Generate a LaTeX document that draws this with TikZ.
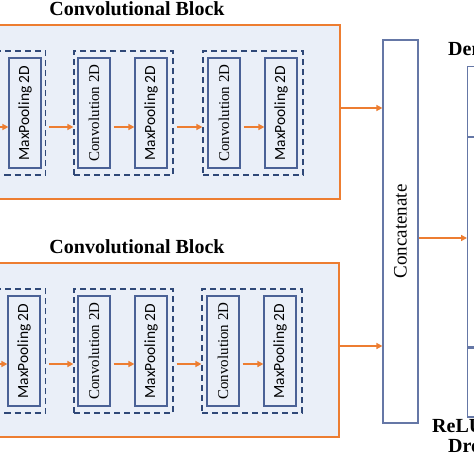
\documentclass[tikz,border=0pt]{standalone}
\usepackage{fontspec}
\setmainfont{Liberation Serif}
\newfontfamily\calib{Carlito}
\usetikzlibrary{arrows.meta}
\definecolor{orng}{HTML}{ED7D31}
\definecolor{bfill}{HTML}{EAEFF8}
\definecolor{dblue}{HTML}{2F4878}
\definecolor{eblue}{HTML}{4A6196}
\definecolor{cblue}{HTML}{6577A6}
\newcommand\myconv{\rotatebox{90}{\fontsize{15}{17}\selectfont Convolution 2D}}
\newcommand\mypool{\rotatebox{90}{\calib\fontsize{15.5}{17}\selectfont MaxPooling 2D}}
\tikzset{
  blockbox/.style={draw=orng, line width=1.3pt, fill=bfill, inner sep=0pt},
  dashbox/.style={draw=dblue, line width=1.2pt, dash pattern=on 6pt off 4pt, inner sep=0pt},
  layerbox/.style={draw=eblue, line width=1.2pt, fill=bfill, inner sep=0pt, minimum width=32pt, minimum height=110pt},
  concatbox/.style={draw=cblue, line width=1.2pt, fill=white, inner sep=0pt},
  arr/.style={draw=orng, line width=1.6pt, -{Triangle[length=6pt,width=6pt]}},
  title/.style={font=\fontsize{20}{22}\selectfont\bfseries, inner sep=0pt},
}
\begin{document}
\begin{tikzpicture}[x=1pt,y=-1pt]
\useasboundingbox (0,0) rectangle (474,474);
\clip (0,0) rectangle (474,474);
% ---------- Block 1 ----------
\node[title, anchor=base] (t1) at (137,15) {Convolutional Block};
\node[blockbox, minimum width=440pt, minimum height=174pt] (b1) at (120,112) {};
\node[dashbox, minimum width=101pt, minimum height=124pt] (d1a) at (-5,113) {};
\node[dashbox, minimum width=99pt, minimum height=124pt] (d1b) at (123.5,113) {};
\node[dashbox, minimum width=100pt, minimum height=124pt] (d1c) at (253,113) {};
\node[layerbox] (c1a) at (-35,113) {};
\node[layerbox] (m1a) at (25,113) {\mypool};
\node[layerbox] (c1b) at (94,113) {\myconv};
\node[layerbox] (m1b) at (151,113) {\mypool};
\node[layerbox] (c1c) at (224,113) {\myconv};
\node[layerbox] (m1c) at (281,113) {\mypool};
\draw[arr, shorten <=3pt] ([yshift=-14pt]c1a.east) -- ([yshift=-14pt]m1a.west);
\draw[arr, shorten <=3pt] ([yshift=-14pt]d1a.east) -- ([yshift=-14pt]d1b.west);
\draw[arr, shorten <=3pt] ([yshift=-14pt]c1b.east) -- ([yshift=-14pt]m1b.west);
\draw[arr, shorten <=3pt] ([yshift=-14pt]d1b.east) -- ([yshift=-14pt]d1c.west);
\draw[arr, shorten <=3pt] ([yshift=-14pt]c1c.east) -- ([yshift=-14pt]m1c.west);
% ---------- Block 2 ----------
\node[title, anchor=base] (t2) at (137,253) {Convolutional Block};
\node[blockbox, minimum width=439pt, minimum height=174pt] (b2) at (119.5,350) {};
\node[dashbox, minimum width=101pt, minimum height=124pt] (d2a) at (-5,351) {};
\node[dashbox, minimum width=99pt, minimum height=124pt] (d2b) at (123.5,351) {};
\node[dashbox, minimum width=100pt, minimum height=124pt] (d2c) at (252,351) {};
\node[layerbox] (c2a) at (-35,351) {};
\node[layerbox] (m2a) at (24,351) {\mypool};
\node[layerbox] (c2b) at (94,351) {\myconv};
\node[layerbox] (m2b) at (151,351) {\mypool};
\node[layerbox] (c2c) at (223,351) {\myconv};
\node[layerbox] (m2c) at (280,351) {\mypool};
\draw[arr, shorten <=3pt] ([yshift=-13pt]c2a.east) -- ([yshift=-13pt]m2a.west);
\draw[arr, shorten <=3pt] ([yshift=-13pt]d2a.east) -- ([yshift=-13pt]d2b.west);
\draw[arr, shorten <=3pt] ([yshift=-13pt]c2b.east) -- ([yshift=-13pt]m2b.west);
\draw[arr, shorten <=3pt] ([yshift=-13pt]d2b.east) -- ([yshift=-13pt]d2c.west);
\draw[arr, shorten <=3pt] ([yshift=-13pt]c2c.east) -- ([yshift=-13pt]m2c.west);
% ---------- Concatenate ----------
\node[concatbox, minimum width=35pt, minimum height=383pt] (cat) at (400.5,231.5)
  {\rotatebox{90}{\fontsize{19}{21}\selectfont Concatenate}};
\draw[arr] ([yshift=4pt]b1.east) -- ([yshift=4pt]b1.east -| cat.west);
\draw[arr] ([yshift=4pt]b2.east) -- ([yshift=4pt]b2.east -| cat.west);
% ---------- Dense ----------
\node[title, anchor=base west] (tden) at (448,55) {Dense Layers};
\node[concatbox, minimum width=40pt, minimum height=70pt, anchor=north west] (den1) at (467,66) {};
\node[concatbox, minimum width=40pt, minimum height=209pt, anchor=north west] (den2) at (den1.south west) {};
\node[concatbox, minimum width=40pt, minimum height=69pt, anchor=north west] (den3) at (den2.south west) {};
\draw[arr] ([yshift=-6.5pt]cat.east) -- ([yshift=-6.5pt]cat.east -| den2.west);
\node[title, anchor=base west] (trelu) at (432,432) {ReLU};
\node[title, anchor=base west] (tdrop) at (448,452) {Dropout};
\end{tikzpicture}
\end{document}
